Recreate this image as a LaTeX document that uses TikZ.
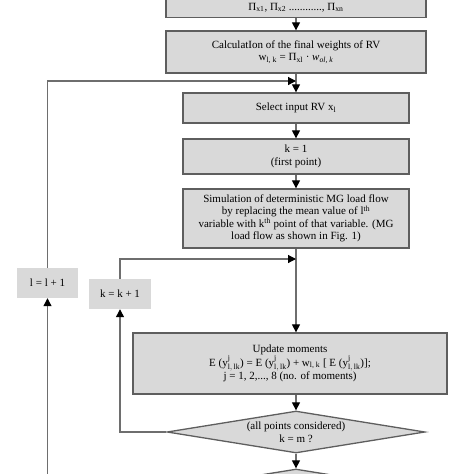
\documentclass[tikz,border=0pt]{standalone}
\usepackage{fontspec}
\setmainfont{Liberation Serif}
\usetikzlibrary{shapes.geometric,arrows.meta}
\definecolor{boxfill}{HTML}{D9D9D9}
\definecolor{boxline}{HTML}{5E5E5E}
\definecolor{wire}{HTML}{6E6E6E}

\begin{document}
\begin{tikzpicture}[x=1pt,y=-1pt,
  box/.style={draw=boxline,fill=boxfill,line width=1.3pt,align=center,
    font=\fontsize{11}{12.4}\selectfont,inner sep=0pt},
  pbox/.style={fill=boxfill,align=center,font=\fontsize{11}{12.4}\selectfont,inner sep=0pt},
  dia/.style={diamond,aspect=6,draw=boxline,fill=boxfill,line width=1.3pt,align=center,
    font=\fontsize{11}{13}\selectfont,inner sep=0pt,minimum width=258,minimum height=42},
  flow/.style={draw=wire,line width=1.2pt,-{Triangle[length=8pt,width=8pt,color=black]}}]
\clip (0,0) rectangle (474,474);

\node[box,minimum width=260,anchor=south,text height=30pt,text depth=3pt,inner ysep=4pt] (top) at (296,18)
  {Π\textsubscript{x1}, Π\textsubscript{x2} ............, Π\textsubscript{xn}};
\node[box,minimum width=260,minimum height=42] (calc) at (296,52)
  {CalculatIon of the final weights of RV\\
   w\textsubscript{l, k} = Π\textsubscript{xl} · \textit{w}\textsubscript{\textit{ol, k}}};
\node[box,minimum width=226,minimum height=30] (sel) at (296,108) {Select input RV x\textsubscript{l}};
\node[box,minimum width=226,minimum height=35] (kone) at (296,156.5) {k = 1\\(first point)};
\node[box,minimum width=226,minimum height=59] (sim) at (296,218.5)
  {Simulation of deterministic MG load flow\\
   by replacing the mean value of l\textsuperscript{th}\\
   variable with k\textsuperscript{th} point of that variable. (MG\\
   load flow as shown in Fig. 1)};
\node[box,minimum width=314,minimum height=61] (upd) at (290,363.5)
  {Update moments\\
   E (y$^{\mathrm{j}}_{\mathrm{l,\,lk}}$) = E (y$^{\mathrm{j}}_{\mathrm{l,\,lk}}$) + w\textsubscript{l, k} [ E (y$^{\mathrm{j}}_{\mathrm{l,\,lk}}$)];\\
   j = 1, 2,..., 8 (no. of moments)};
\node[dia] (chk) at (296,432) {(all points considered)\\k = m ?};
\node[dia] (chk2) at (296,490) {};

\node[pbox,minimum width=61,minimum height=30] (linc) at (47.5,283) {l = l + 1};
\node[pbox,minimum width=62,minimum height=30] (kinc) at (120,294) {k = k + 1};

\coordinate (lin) at (296,81);
\coordinate (kin) at (296,259);

\draw[flow] (top) -- (calc);
\draw[flow] (calc) -- (sel);
\draw[flow] (sel) -- (kone);
\draw[flow] (kone) -- (sim);
\draw[flow] (sim.south) -- (sim.south |- upd.north);
\draw[flow] (upd.south -| chk) -- (chk);
\draw[flow] (chk) -- (chk2);

\draw[flow] (chk.west) -| (kinc.south);
\draw[flow] (kinc.north) |- (kin);
\draw[flow] (chk2.west) -| (linc.south);
\draw[flow] (linc.north) |- (lin);

\end{tikzpicture}
\end{document}
